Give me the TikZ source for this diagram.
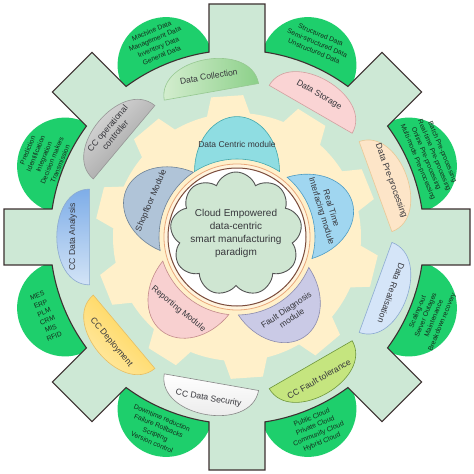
\documentclass[tikz,border=0pt]{standalone}
\usepackage{fontspec}
\setmainfont{Liberation Sans}
\usetikzlibrary{shapes.symbols}
\definecolor{gearfill}{RGB}{205,232,213}
\definecolor{gearline}{RGB}{60,48,48}
\definecolor{blobfill}{RGB}{30,207,108}
\definecolor{blobtxt}{RGB}{20,45,28}
\definecolor{yelfill}{RGB}{255,240,202}
\definecolor{txtgray}{RGB}{55,55,60}
% crescents
\definecolor{dcL}{RGB}{216,239,211}\definecolor{dcR}{RGB}{140,208,137}\definecolor{dcE}{RGB}{150,200,145}
\definecolor{dsF}{RGB}{250,212,212}\definecolor{dsE}{RGB}{210,160,160}
\definecolor{dpF}{RGB}{253,229,200}\definecolor{dpE}{RGB}{232,200,150}
\definecolor{drF}{RGB}{213,229,248}\definecolor{drE}{RGB}{140,170,210}
\definecolor{ftF}{RGB}{197,229,127}\definecolor{ftE}{RGB}{110,150,60}
\definecolor{secB}{RGB}{228,228,228}\definecolor{secE}{RGB}{135,135,135}
\definecolor{depA}{RGB}{255,212,80}\definecolor{depB}{RGB}{255,241,196}\definecolor{depE}{RGB}{230,190,100}
\definecolor{anA}{RGB}{126,173,232}\definecolor{anB}{RGB}{211,228,246}\definecolor{anE}{RGB}{140,170,208}
\definecolor{opA}{RGB}{158,158,158}\definecolor{opB}{RGB}{240,240,240}\definecolor{opE}{RGB}{150,150,150}
% petals
\definecolor{pcF}{RGB}{143,221,226}\definecolor{pcE}{RGB}{69,169,174}
\definecolor{ptF}{RGB}{160,214,240}\definecolor{ptE}{RGB}{77,156,196}
\definecolor{pfF}{RGB}{202,202,230}\definecolor{pfE}{RGB}{140,140,174}
\definecolor{prF}{RGB}{248,208,208}\definecolor{prE}{RGB}{195,138,138}
\definecolor{psF}{RGB}{176,196,216}\definecolor{psE}{RGB}{110,131,152}
\definecolor{ringO}{RGB}{233,167,122}\definecolor{ringB}{RGB}{123,75,59}
\definecolor{ringF}{RGB}{255,244,222}
\definecolor{cloudF}{RGB}{207,230,210}\definecolor{cloudE}{RGB}{85,85,85}

\newcommand\myblobshape[1]{%
  \pgfmathsetmacro\brr{#1-90}%
  \begin{scope}[rotate=\brr]
    \fill[blobfill] (0,187) ellipse [x radius=48, y radius=47];
  \end{scope}}
\newcommand\mycres[6]{% angle, style, text, rot, name, text radius
  \pgfmathsetmacro\crr{#1-90}%
  \begin{scope}[rotate=\crr]
    \path[#2] (72:155) -- (108:155)
      .. controls (104:197) and (76:197) .. (72:155) -- cycle;
  \end{scope}
  \node[crestxt, rotate=#4] (#5) at (#1:#6) {#3};}
\newcommand\mypetal[5]{% angle, style, text, rot, name
  \pgfmathsetmacro\prr{#1-90}%
  \begin{scope}[rotate=\prr]
    \path[#2] (57:78) arc[start angle=57, end angle=123, radius=78]
      arc[start angle=180, end angle=0, x radius=42.5, y radius=55] -- cycle;
  \end{scope}
  \node[petaltxt, rotate=#4] (#5) at (#1:93) {#3};}

\begin{document}
\begin{tikzpicture}[x=1pt,y=1pt,
  blobtext/.style={font=\fontsize{6.8}{8.8}\selectfont, text=blobtxt, align=center, inner sep=0pt},
  crestxt/.style={font=\fontsize{8.6}{10}\selectfont, text=txtgray, align=center, inner sep=0pt},
  petaltxt/.style={font=\fontsize{8.5}{10}\selectfont, text=txtgray, align=center, inner sep=0pt},
  cloudtxt/.style={font=\fontsize{10}{13}\selectfont, text=txtgray, align=center, inner sep=0pt},
  cDC/.style={left color=dcL, right color=dcR, draw=dcE, line width=0.6pt},
  cDS/.style={fill=dsF, draw=dsE, line width=0.6pt},
  cDP/.style={fill=dpF, draw=dpE, line width=0.6pt},
  cDR/.style={fill=drF, draw=drE, line width=0.6pt},
  cFT/.style={fill=ftF, draw=ftE, line width=0.6pt},
  cSE/.style={top color=white, bottom color=secB, draw=secE, line width=0.6pt},
  cDE/.style={left color=depA, right color=depB, shading angle=-45, draw=depE, line width=0.6pt},
  cAN/.style={top color=anA, bottom color=anB, draw=anE, line width=0.6pt},
  cOP/.style={left color=opB, right color=opA, shading angle=45, draw=opE, line width=0.6pt},
  pDC/.style={fill=pcF, draw=pcE, line width=0.6pt},
  pRT/.style={fill=ptF, draw=ptE, line width=0.6pt},
  pFD/.style={fill=pfF, draw=pfE, line width=0.6pt},
  pRM/.style={fill=prF, draw=prE, line width=0.6pt},
  pSM/.style={fill=psF, draw=psE, line width=0.6pt}]
\useasboundingbox[fill=white] (-237,-237) rectangle (237,237);

% green blobs between the teeth
\foreach \c in {22.5,67.5,...,337.5} {\myblobshape{\c}}

% outer gear
\filldraw[fill=gearfill, draw=gearline, line width=1.1pt, line join=miter]
  ({-8.61}:187) \foreach \t in {0,45,...,315} {
    -- ({\t-8.61}:187) -- ({\t-6.85}:234.7) -- ({\t+6.85}:234.7) -- ({\t+8.61}:187)
    arc[start angle={\t+8.61}, end angle={\t+36.39}, radius=187] } -- cycle;

% blob texts
\node[blobtext, rotate=22.5] (b1) at (112.5:210) {Machine Data\\Management Data\\Inventory Data\\General Data};
\node[blobtext, rotate=-22.5] (b2) at (67.5:210) {Structured Data\\Semi-structured Data\\Unstructured Data};
\node[blobtext, rotate=-67.5] (b3) at (22.5:209) {Batch Pre-processing\\Real-time Pre-processing\\Online Pre-processing\\Multi-mode Pre-processing};
\node[blobtext, rotate=67.5] (b4) at (-22.5:209) {Scaling-out\\Server Outages\\Maintenance\\Breakdown recovery};
\node[blobtext, rotate=22.5] (b5) at (-67.5:209) {Public Cloud\\Private Cloud\\Community Cloud\\Hybrid Cloud};
\node[blobtext, rotate=-22.5] (b6) at (-112.5:209) {Downtime reduction\\Failure Rollbacks\\Scripting\\Version control};
\node[blobtext, rotate=22.5] (b7) at (-157.5:207) {MES\\ERP\\PLM\\CRM\\MIS\\RFID};
\node[blobtext, rotate=67.5] (b8) at (157.5:209) {Prediction\\Identification\\Integration\\Decision makers\\Transmission};

% inner yellow gear
\fill[yelfill] ({48}:124) \foreach \t in {58,94,...,382} {
    -- ({\t-10}:124) -- ({\t-6.5}:142) -- ({\t+6.5}:142) -- ({\t+10}:124)
    arc[start angle={\t+10}, end angle={\t+26}, radius=124] } -- cycle;

% crescents
\mycres{100}{cDC}{Data Collection}{10}{c1}{163}
\mycres{60}{cDS}{Data Storage}{-30}{c2}{164}
\mycres{20}{cDP}{Data Pre-processing}{-70}{c3}{164}
\mycres{-20}{cDR}{Data Realisation}{-110}{c4}{164}
\mycres{-60}{cFT}{CC Fault tolerance}{30}{c5}{164}
\mycres{-100}{cSE}{CC Data Security}{-10}{c6}{164}
\mycres{-140}{cDE}{CC Deployment}{-50}{c7}{164}
\mycres{180}{cAN}{CC Data Analysis}{90}{c8}{164}
\mycres{140}{cOP}{CC operational\\controller}{50}{c9}{164}

% petals
\mypetal{90}{pDC}{Data Centric module}{0}{m1}
\mypetal{17}{pRT}{Real Time\\Interfacing module}{-73}{m2}
\mypetal{-56}{pFD}{Fault Diagnosis\\module}{34}{m3}
\mypetal{-129}{pRM}{Reporting Module}{-39}{m4}
\mypetal{157}{pSM}{Shopfloor Module}{67}{m5}

% central ring
\filldraw[fill=ringF, draw=ringO, line width=0.8pt] (0,0) circle[radius=73];
\filldraw[fill=white, draw=ringB, line width=1pt] (0,0) circle[radius=69];

% cloud
\node[cloud, cloud puffs=9, cloud puff arc=140, aspect=1.05, fill=cloudF, draw=cloudE, line width=0.9pt,
      minimum width=132, minimum height=124, inner sep=0pt] (cloudshape) at (-1,3) {};
\node[cloudtxt] (core) at (-1,4)
  {Cloud Empowered\\data-centric\\smart manufacturing\\paradigm};
\end{tikzpicture}
\end{document}
